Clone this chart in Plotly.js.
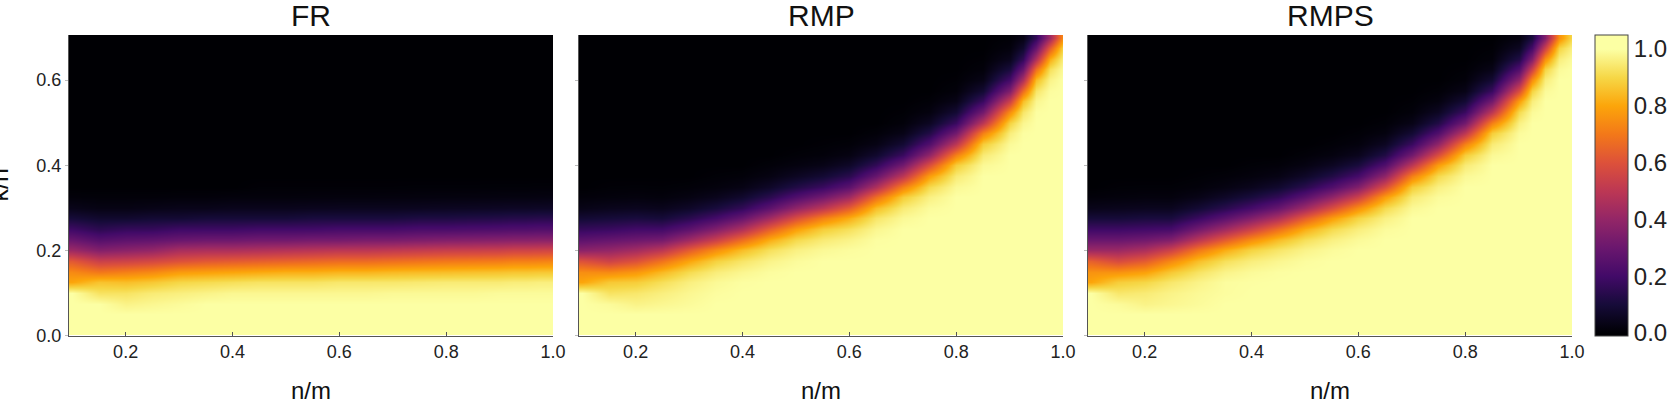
<!DOCTYPE html>
<html>
<head>
<meta charset="utf-8">
<script src="https://cdn.plot.ly/plotly-3.0.1.min.js"></script>
<style>html,body{margin:0;padding:0;background:#fff;}#chart{width:1675px;height:406px;}</style>
</head>
<body>
<div id="chart"></div>
<script>
// ---- data ----
const panelTitles = ["FR", "RMP", "RMPS"];
const nmVals = [0.1,0.15,0.2,0.25,0.3,0.35,0.4,0.45,0.5,0.55,0.6,0.65,0.7,0.75,0.8,0.85,0.9,0.925,0.95,0.975,1.0];
const knVals = [0,0.025,0.05,0.075,0.1,0.125,0.15,0.175,0.2,0.225,0.25,0.275,0.3,0.325,0.35,0.375,0.4,0.425,0.45,0.475,0.5,0.525,0.55,0.575,0.6,0.625,0.65,0.675,0.7];
const xTickVals = [0.2,0.4,0.6,0.8,1.0];
const xTickText = ["0.2","0.4","0.6","0.8","1.0"];
const yTickVals = [0,0.2,0.4,0.6];
const yTickText = ["0.0","0.2","0.4","0.6"];
const cbTickVals = [0,0.2,0.4,0.6,0.8,1.0];
const cbTickText = ["0.0","0.2","0.4","0.6","0.8","1.0"];

// each inner array is one n/m column, values going up in k/n (29 rows)
const frCols = [
 [1,1,1,1,1, .8,.74,.62,.42,.3, .19,.1,.04,.012,0, 0,0,0,0,0, 0,0,0,0,0, 0,0,0,0],
 [1,1,1,1,.93, .86,.7,.54,.36,.25, .15,.08,.03,.01,0, 0,0,0,0,0, 0,0,0,0,0, 0,0,0,0],
 [1,1,1,.97,.93, .85,.72,.55,.38,.27, .17,.08,.03,.01,0, 0,0,0,0,0, 0,0,0,0,0, 0,0,0,0],
 [1,1,1,.98,.95, .87,.74,.57,.4,.28, .17,.09,.035,.01,0, 0,0,0,0,0, 0,0,0,0,0, 0,0,0,0],
 [1,1,1,.99,.96, .9,.78,.6,.45,.3, .19,.09,.04,.012,0, 0,0,0,0,0, 0,0,0,0,0, 0,0,0,0],
 [1,1,1,1,.97, .91,.79,.62,.46,.31, .19,.1,.04,.012,0, 0,0,0,0,0, 0,0,0,0,0, 0,0,0,0],
 [1,1,1,1,.98, .92,.8,.63,.46,.31, .19,.1,.045,.015,0, 0,0,0,0,0, 0,0,0,0,0, 0,0,0,0],
 [1,1,1,1,.98, .93,.81,.64,.47,.32, .2,.1,.045,.015,.005, 0,0,0,0,0, 0,0,0,0,0, 0,0,0,0],
 [1,1,1,1,.98, .93,.82,.65,.48,.32, .2,.1,.045,.015,.005, 0,0,0,0,0, 0,0,0,0,0, 0,0,0,0],
 [1,1,1,1,.98, .93,.82,.66,.49,.33, .2,.11,.048,.016,.005, 0,0,0,0,0, 0,0,0,0,0, 0,0,0,0],
 [1,1,1,1,.98, .94,.83,.67,.5,.33, .21,.11,.05,.017,.005, 0,0,0,0,0, 0,0,0,0,0, 0,0,0,0],
 [1,1,1,1,.98, .94,.83,.67,.5,.34, .21,.11,.05,.017,.005, 0,0,0,0,0, 0,0,0,0,0, 0,0,0,0],
 [1,1,1,1,.985, .94,.84,.68,.51,.34, .21,.11,.05,.018,.005, 0,0,0,0,0, 0,0,0,0,0, 0,0,0,0],
 [1,1,1,1,.985, .945,.845,.69,.52,.35, .22,.12,.052,.019,.006, 0,0,0,0,0, 0,0,0,0,0, 0,0,0,0],
 [1,1,1,1,.985, .95,.85,.7,.53,.36, .22,.12,.055,.02,.006, 0,0,0,0,0, 0,0,0,0,0, 0,0,0,0],
 [1,1,1,1,.985, .95,.855,.705,.535,.365, .225,.125,.057,.021,.006, 0,0,0,0,0, 0,0,0,0,0, 0,0,0,0],
 [1,1,1,1,.99, .95,.86,.71,.54,.37, .23,.13,.06,.022,.007, 0,0,0,0,0, 0,0,0,0,0, 0,0,0,0],
 [1,1,1,1,.99, .955,.865,.72,.55,.375, .235,.135,.062,.023,.007, 0,0,0,0,0, 0,0,0,0,0, 0,0,0,0],
 [1,1,1,1,.99, .955,.865,.72,.55,.375, .235,.135,.062,.023,.007, 0,0,0,0,0, 0,0,0,0,0, 0,0,0,0],
 [1,1,1,1,.99, .96,.87,.725,.555,.38, .24,.14,.064,.024,.008, 0,0,0,0,0, 0,0,0,0,0, 0,0,0,0],
 [1,1,1,1,.99, .96,.87,.73,.56,.38, .24,.14,.065,.025,.008, 0,0,0,0,0, 0,0,0,0,0, 0,0,0,0]
];

const rmpCols = [
 [1,1,1,1,1, .8,.75,.6,.38,.27, .17,.09,.035,.012,0, 0,0,0,0,0, 0,0,0,0,0, 0,0,0,0],
 [1,1,1,.99,.93, .87,.74,.55,.4,.29, .18,.1,.045,.015,.005, 0,0,0,0,0, 0,0,0,0,0, 0,0,0,0],
 [1,1,1,.97,.94, .88,.77,.6,.44,.31, .2,.11,.05,.018,.006, 0,0,0,0,0, 0,0,0,0,0, 0,0,0,0],
 [1,1,1,.98,.96, .92,.84,.69,.5,.33, .2,.1,.045,.015,.005, 0,0,0,0,0, 0,0,0,0,0, 0,0,0,0],
 [1,1,1,.99,.98, .96,.91,.8,.63,.43, .265,.145,.068,.026,.009, 0,0,0,0,0, 0,0,0,0,0, 0,0,0,0],
 [1,1,1,1,.995, .985,.955,.89,.75,.544, .356,.208,.108,.046,.017, .006,0,0,0,0, 0,0,0,0,0, 0,0,0,0],
 [1,1,1,1,1, .997,.978,.936,.848,.676, .464,.292,.162,.079,.03, .01,0,0,0,0, 0,0,0,0,0, 0,0,0,0],
 [1,1,1,1,1, 1,.994,.971,.922,.816, .632,.428,.264,.144,.068, .026,.009,0,0,0, 0,0,0,0,0, 0,0,0,0],
 [1,1,1,1,1, 1,1,.991,.964,.908, .784,.588,.392,.236,.126, .057,.021,.007,0,0, 0,0,0,0,0, 0,0,0,0],
 [1,1,1,1,1, 1,1,1,.985,.95, .88,.72,.5,.32,.18, .09,.035,.012,.004,0, 0,0,0,0,0, 0,0,0,0],
 [1,1,1,1,1, 1,1,1,.994,.971, .922,.816,.632,.428,.264, .144,.068,.026,.009,0, 0,0,0,0,0, 0,0,0,0],
 [1,1,1,1,1, 1,1,1,1,.997, .978,.936,.848,.676,.464, .292,.162,.079,.03,.01, 0,0,0,0,0, 0,0,0,0],
 [1,1,1,1,1, 1,1,1,1,1, 1,.985,.95,.88,.72, .5,.32,.18,.09,.035, .012,.004,0,0,0, 0,0,0,0],
 [1,1,1,1,1, 1,1,1,1,1, 1,1,.991,.964,.908, .784,.588,.392,.236,.126, .057,.021,.007,0,0, 0,0,0,0],
 [1,1,1,1,1, 1,1,1,1,1, 1,1,1,1,.985, .95,.88,.72,.5,.32, .18,.09,.035,.012,.004, 0,0,0,0],
 [1,1,1,1,1, 1,1,1,1,1, 1,1,1,1,1, 1,.985,.95,.88,.72, .5,.32,.18,.09,.035, .012,.004,0,0],
 [1,1,1,1,1, 1,1,1,1,1, 1,1,1,1,1, 1,1,1,.988,.957, .894,.752,.544,.356,.208, .108,.046,.017,.006],
 [1,1,1,1,1, 1,1,1,1,1, 1,1,1,1,1, 1,1,1,1,.997, .978,.936,.848,.676,.464, .292,.162,.079,.03],
 [1,1,1,1,1, 1,1,1,1,1, 1,1,1,1,1, 1,1,1,1,1, 1,.997,.978,.936,.848, .676,.464,.292,.162],
 [1,1,1,1,1, 1,1,1,1,1, 1,1,1,1,1, 1,1,1,1,1, 1,1,1,.994,.971, .922,.816,.632,.428],
 [1,1,1,1,1, 1,1,1,1,1, 1,1,1,1,1, 1,1,1,1,1, 1,1,1,1,1, .988,.957,.894,.752]
];

const rmpsCols = [
 [1,1,1,1,1, .8,.76,.64,.42,.3, .19,.1,.04,.012,0, 0,0,0,0,0, 0,0,0,0,0, 0,0,0,0],
 [1,1,1,.99,.94, .88,.76,.58,.42,.3, .19,.1,.045,.015,.005, 0,0,0,0,0, 0,0,0,0,0, 0,0,0,0],
 [1,1,1,.97,.95, .9,.79,.63,.46,.32, .2,.11,.05,.018,.006, 0,0,0,0,0, 0,0,0,0,0, 0,0,0,0],
 [1,1,1,.98,.97, .94,.87,.74,.55,.36, .21,.11,.05,.017,.006, 0,0,0,0,0, 0,0,0,0,0, 0,0,0,0],
 [1,1,1,.99,.985, .97,.93,.85,.7,.5, .32,.18,.09,.035,.012, .004,0,0,0,0, 0,0,0,0,0, 0,0,0,0],
 [1,1,1,1,.995, .994,.971,.922,.816,.632, .428,.264,.144,.068,.026, .009,0,0,0,0, 0,0,0,0,0, 0,0,0,0],
 [1,1,1,1,1, .998,.988,.957,.894,.752, .544,.356,.208,.108,.046, .017,.006,0,0,0, 0,0,0,0,0, 0,0,0,0],
 [1,1,1,1,1, 1,.997,.978,.936,.848, .676,.464,.292,.162,.079, .03,.01,0,0,0, 0,0,0,0,0, 0,0,0,0],
 [1,1,1,1,1, 1,1,.994,.971,.922, .816,.632,.428,.264,.144, .068,.026,.009,0,0, 0,0,0,0,0, 0,0,0,0],
 [1,1,1,1,1, 1,1,1,.991,.964, .908,.784,.588,.392,.236, .126,.057,.021,.007,0, 0,0,0,0,0, 0,0,0,0],
 [1,1,1,1,1, 1,1,1,1,.988, .957,.894,.752,.544,.356, .208,.108,.046,.017,.006, 0,0,0,0,0, 0,0,0,0],
 [1,1,1,1,1, 1,1,1,1,1, .991,.964,.908,.784,.588, .392,.236,.126,.057,.021, .007,0,0,0,0, 0,0,0,0],
 [1,1,1,1,1, 1,1,1,1,1, 1,1,.985,.95,.88, .72,.5,.32,.18,.09, .035,.012,.004,0,0, 0,0,0,0],
 [1,1,1,1,1, 1,1,1,1,1, 1,1,1,.991,.964, .908,.784,.588,.392,.236, .126,.057,.021,.007,0, 0,0,0,0],
 [1,1,1,1,1, 1,1,1,1,1, 1,1,1,1,1, .985,.95,.88,.72,.5, .32,.18,.09,.035,.012, .004,0,0,0],
 [1,1,1,1,1, 1,1,1,1,1, 1,1,1,1,1, 1,1,.985,.95,.88, .72,.5,.32,.18,.09, .035,.012,.004,0],
 [1,1,1,1,1, 1,1,1,1,1, 1,1,1,1,1, 1,1,1,1,.991, .964,.908,.784,.588,.392, .236,.126,.057,.021],
 [1,1,1,1,1, 1,1,1,1,1, 1,1,1,1,1, 1,1,1,1,1, 1,.988,.957,.894,.752, .544,.356,.208,.108],
 [1,1,1,1,1, 1,1,1,1,1, 1,1,1,1,1, 1,1,1,1,1, 1,1,1,.988,.957, .894,.752,.544,.356],
 [1,1,1,1,1, 1,1,1,1,1, 1,1,1,1,1, 1,1,1,1,1, 1,1,1,1,1, .988,.957,.894,.752],
 [1,1,1,1,1, 1,1,1,1,1, 1,1,1,1,1, 1,1,1,1,1, 1,1,1,1,1, 1,.991,.964,.908]
];

// ---- styling ----
const W = 1675, H = 406;
const FONT = "Liberation Sans, Arial, sans-serif";
const infernoVals = [0,0.1,0.2,0.3,0.4,0.5,0.6,0.7,0.8,0.9,1.0];
const infernoColors = ["#000004","#160b39","#420a68","#6a176e","#932667","#bc3754","#dd513a","#f37819","#fca50a","#f6d746","#fcffa4"];
const cMin = -0.01, cMax = 1.05;
const colorscale = [[0, infernoColors[0]]];
infernoVals.forEach((v, i) => colorscale.push([(v - cMin) / (cMax - cMin), infernoColors[i]]));
colorscale.push([1, infernoColors[infernoColors.length - 1]]);

const panelsPx = [[69, 553], [579, 1063], [1088, 1572]];
const plotTop = 35, plotBottom = 335.5;
const colsByPanel = [frCols, rmpCols, rmpsCols];

const data = [];
const layout = {
  width: W, height: H,
  margin: {l: 0, r: 0, t: 0, b: 0, autoexpand: false},
  paper_bgcolor: "#fff", plot_bgcolor: "#fff",
  showlegend: false,
  font: {family: FONT, color: "#222"},
  coloraxis: {
    cmin: cMin, cmax: cMax, colorscale: colorscale,
    colorbar: {
      x: 1595 / W, xanchor: "left", xpad: 0,
      y: 1 - ((plotTop + plotBottom) / 2) / H, yanchor: "middle", ypad: 0,
      len: plotBottom - plotTop + 0.5, lenmode: "pixels",
      thickness: 33, thicknessmode: "pixels",
      outlinewidth: 1, outlinecolor: "#444",
      tickvals: cbTickVals, ticktext: cbTickText,
      ticks: "", ticklen: 0,
      tickfont: {size: 24, family: FONT, color: "#222"}
    }
  },
  annotations: []
};

panelsPx.forEach((p, i) => {
  const sfx = i === 0 ? "" : String(i + 1);
  data.push({
    type: "heatmap", x: nmVals, y: knVals, z: colsByPanel[i], transpose: true,
    coloraxis: "coloraxis", zsmooth: "best", hoverinfo: "skip",
    xaxis: "x" + sfx, yaxis: "y" + sfx
  });
  layout["xaxis" + sfx] = {
    domain: [p[0] / W, p[1] / W], range: [0.094, 1.0], anchor: "y" + sfx,
    showline: true, linecolor: "#555", linewidth: 1, mirror: false,
    ticks: "inside", ticklen: 4, tickwidth: 1, tickcolor: "#555",
    tickvals: xTickVals, ticktext: xTickText,
    tickfont: {size: 18, family: FONT, color: "#222"},
    showgrid: false, zeroline: false, fixedrange: true
  };
  layout["yaxis" + sfx] = {
    domain: [1 - plotBottom / H, 1 - plotTop / H], range: [0, 0.706], anchor: "x" + sfx,
    showline: true, linecolor: "#555", linewidth: 1,
    ticks: "outside", ticklen: 3, tickwidth: 1, tickcolor: "#bbb",
    tickvals: yTickVals, ticktext: yTickText,
    showticklabels: i === 0,
    tickfont: {size: 18, family: FONT, color: "#222"},
    showgrid: false, zeroline: false, fixedrange: true
  };
  const cx = (p[0] + p[1]) / 2 / W;
  layout.annotations.push({
    text: panelTitles[i], xref: "paper", yref: "paper", x: cx, y: 1 - 16 / H,
    xanchor: "center", yanchor: "middle", showarrow: false,
    font: {size: 30, family: FONT, color: "#111"}
  });
  layout.annotations.push({
    text: "n/m", xref: "paper", yref: "paper", x: cx, y: 1 - 390 / H,
    xanchor: "center", yanchor: "middle", showarrow: false,
    font: {size: 24, family: FONT, color: "#111"}
  });
});

layout.annotations.push({
  text: "k/n", xref: "paper", yref: "paper", x: -1.5 / W, y: 1 - 185 / H,
  xanchor: "center", yanchor: "middle", textangle: -90, showarrow: false,
  font: {size: 25, family: FONT, color: "#111"}
});

Plotly.newPlot("chart", data, layout, {displayModeBar: false, staticPlot: true});
</script>
</body>
</html>
